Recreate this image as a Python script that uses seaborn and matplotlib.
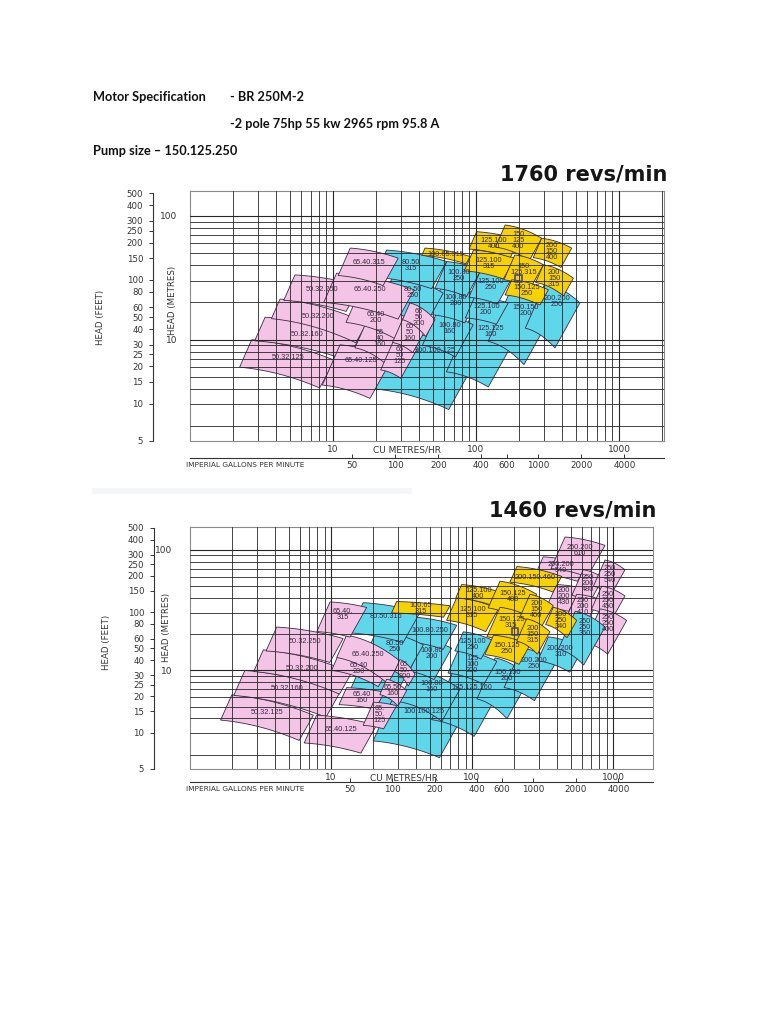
# Pump selection chart sheet: motor spec header plus two tile charts (1760 / 1460 rpm)
import numpy as np
import pandas as pd
import matplotlib
matplotlib.use('Agg')
import matplotlib.pyplot as plt
from matplotlib.ticker import NullLocator, NullFormatter
import seaborn as sns

sns.set_style('white')
plt.rcParams['font.family'] = ['DejaVu Sans']

M3H_PER_IGPM = 0.2728
FT_PER_M = 3.28084
colours = {'p': '#f4c4e6', 'c': '#5fd7ea', 'y': '#f6d300'}

# ---- 1760 revs/min tiles (flow m3/h, head m) ----
c1_labels = ["100.100.125", "125.125\n160", "150.150\n200", "200.200\n250",
             "100.80\n160", "100.80\n200", "100.80\n250", "125.100\n200", "125.100\n250",
             "80.50\n250", "80.50\n315",
             "100.65.315", "125.100\n315", "125.100\n400", "150\n125\n400", "150\n125.315",
             "150.125\n250", "200\n150\n400", "200\n150\n315",
             "50.32.125", "50.32.160", "50.32.200", "50.32.250", "65.40.125", "65\n40\n160",
             "65.40\n200", "65.40.250", "65.40.315", "65\n50\n125", "65\n50\n160", "65\n50\n200"]
c1_kind = list('c' * 11 + 'y' * 8 + 'p' * 12)
c1_q_lo = [29.4, 93, 173, 304, 53, 57.5, 62.4, 98, 107, 26.5, 23.7,
           44, 96, 101, 160, 187, 178, 288, 296,
           2.7, 3.35, 4.26, 5.42, 11.2, 17.2, 14.3, 10.6, 13.2, 26.4, 31, 34.5]
c1_q_hi = [107, 203, 338, 533, 95.7, 107, 109, 168, 178, 59, 62.4,
           91, 187, 203, 288, 296, 321, 467, 480,
           10.3, 15.5, 17.2, 15.5, 26, 31, 33, 37, 28.6, 38.5, 45, 51.7]
c1_h_top = [11.5, 15.9, 24.5, 28.6, 16.4, 26.9, 42.8, 22.3, 35.6, 33.4, 53,
            55, 53, 74.6, 84.5, 48.4, 30.5, 66, 40.3,
            10, 15.2, 21.3, 33.4, 9.1, 14.1, 20.4, 34.5, 55, 9.7, 15, 19.8]
c1_h_end = [7.85, 12, 15.9, 19.8, 13.2, 23, 36.7, 19.8, 31.4, 23.8, 42.8,
            47, 45.6, 64, 66, 40.3, 25.3, 55, 31.4,
            6.8, 10.6, 13.6, 27.2, 7.1, 10, 15, 25.3, 45.6, 8.3, 12.4, 14.5]
c1_h_base = [4.0, 5.5, 9.7, 12.4, 9, 16, 26, 15, 22, 11, 32,
             48, 36, 54, 56, 30.5, 23, 46, 29,
             6.0, 9.8, 14.8, 20.8, 4.3, 8.6, 13.8, 20, 33, 5.7, 9.5, 14.5]

# ---- 1460 revs/min tiles ----
c2_labels = ["200.200\n540", "250.200\n610", "200\n200\n430", "250\n200\n480", "250\n200\n410",
             "250\n250\n540", "250\n250\n450", "250\n250\n400",
             "100.100.125", "125.125.160", "150.150\n200", "200.200\n250", "200.200\n310",
             "250\n250\n360", "100.80\n160", "100.80\n200", "100.80.250", "125\n100\n200",
             "125.100\n250", "80.50\n250", "80.50.315",
             "100.65\n315", "125.100\n315", "125.100\n400", "150.125\n400", "150.125\n315",
             "150.125\n250", "200.150.460", "200\n150\n400", "200\n150\n315", "200\n250\n340",
             "50.32.125", "50.32.160", "50.32.200", "50.32.250", "65.40.125", "65.40\n160",
             "65.40\n200", "65.40.250", "65.40.\n315", "65.\n50.\n125", "65.50\n160", "65.\n50.\n200"]
c2_kind = list('p' * 8 + 'c' * 13 + 'y' * 10 + 'p' * 12)
c2_q_lo = [320, 457, 398, 615, 553, 878, 832, 809,
           27.7, 73.7, 146, 225, 348, 540, 38.4, 45.2, 38.4, 80, 86.8, 21.1, 16.9,
           29.2, 77.9, 84.5, 158, 158, 142, 208, 258, 244, 377,
           1.98, 2.45, 3.31, 4.12, 7.9, 12.9, 11.3, 12.9, 9.84, 20, 24.8, 30.8]
c2_q_hi = [651, 878, 600, 853, 800, 1216, 1216, 1250,
           89.2, 162, 258, 398, 615, 878, 82.2, 71.8, 77.9, 150, 138, 45.2, 42.8,
           69.8, 154, 162, 288, 272, 258, 433, 377, 357, 553,
           7.5, 11.6, 14, 12.2, 21, 24, 25, 31, 17.9, 29.2, 34.4, 39.4]
c2_h_top = [87.7, 128, 51.6, 68.4, 42.8, 82.4, 50, 32.4,
            6.2, 9.9, 12.7, 15.3, 19, 31, 10.2, 17.9, 27.7, 14.8, 20.9, 21.5, 36.5,
            37.3, 40.2, 51.6, 55, 33.4, 19.6, 72.8, 42.8, 26.8, 33.4,
            6.27, 10, 14.8, 22.9, 4.25, 7.2, 13.5, 19.6, 37, 5.45, 8.45, 12.3]
c2_h_end = [75.2, 109, 48.4, 58.5, 39, 68.4, 41.5, 26,
            4.5, 7.2, 8.7, 11.9, 15.3, 22.9, 7, 15.3, 23.7, 11.9, 17.9, 16.3, 30.3,
            34.4, 32.4, 44.2, 42.8, 26.8, 16.3, 60.3, 34.4, 20.9, 26,
            4.25, 6.6, 9.6, 18.4, 3.5, 6.6, 9.9, 11.9, 33.3, 5.1, 6.8, 9.3]
c2_h_base = [64, 70, 33, 42, 28, 50, 32, 17,
             2.6, 3.9, 5.8, 7.2, 12, 15, 5.5, 9.8, 17.5, 9.5, 14.5, 6.5, 20.5,
             30, 26, 40, 33, 19, 13.5, 54, 27.5, 17.5, 24,
             3.87, 6.2, 9.8, 14.5, 2.5, 5.2, 10, 12.8, 21, 3.5, 6.3, 9.8]

# selected duty point (pump 150.125.250)
duty_q = [198, 202]
duty_h = [31.4, 20.9]

ft_ticks = [5, 10, 15, 20, 25, 30, 40, 50, 60, 80, 100, 150, 200, 250, 300, 400, 500]
gpm_ticks = [50, 100, 200, 400, 600, 1000, 2000, 4000]
m3h_ticks = [10, 100, 1000]
m_ticks = [10, 100]


def tile_outline(ql, qr, htl, htr, hbl, n=24):
    # curved tile: head curve on top, affinity-shifted copy underneath
    xl, xr = np.log10(ql), np.log10(qr)
    yl, yr = np.log10(htl), np.log10(htr)
    thick = yl - np.log10(hbl)
    t = np.linspace(0, 1, n)
    x_top = xl + (xr - xl) * t
    y_top = yl - (yl - yr) * (0.35 * t + 0.65 * t ** 2)
    a = 0.38 + 0.1 * t
    x_bot = x_top - a * thick
    y_bot = y_top - thick
    xs = np.concatenate([x_top, x_bot[::-1]])
    ys = np.concatenate([y_top, y_bot[::-1]])
    d = min(thick / 2, 0.09)
    lx = (xl + xr) / 2 - 0.42 * d
    ly = yl - (yl - yr) * (0.35 * 0.5 + 0.65 * 0.25) - d
    return 10 ** xs, 10 ** ys, 10 ** lx, 10 ** ly


def draw_chart(ax, df, xlim, ylim, ypad, xpad, gpm_loc, mq, mh):
    ax.set_xscale('log')
    ax.set_yscale('log')
    for _, r in df.iterrows():
        xs, ys, lx, ly = tile_outline(r.q_lo, r.q_hi, r.h_top, r.h_end, r.h_base)
        ax.fill(xs, ys, facecolor=colours[r.kind], edgecolor='#3d2a45', lw=0.6, zorder=1)
        ax.text(lx, ly, r.label, fontsize=5.3, ha='center', va='center', color='#3a2a44',
                linespacing=0.8, zorder=5, family='Liberation Sans')
    sns.scatterplot(x=mq, y=mh, ax=ax, marker='s', s=24, facecolor='none',
                    edgecolor='#3b3a9a', linewidth=1.1, zorder=6)
    ax.set_xlim(*xlim)
    ax.set_ylim(*ylim)
    ax.set_axisbelow(False)
    ax.grid(True, which='major', color='#262626', lw=0.8, zorder=3)
    ax.grid(True, which='minor', color='#262626', lw=0.6, zorder=3)
    ax.set_xticks(m3h_ticks, labels=[str(v) for v in m3h_ticks])
    ax.set_yticks(m_ticks, labels=[str(v) for v in m_ticks])
    ax.xaxis.set_minor_formatter(NullFormatter())
    ax.yaxis.set_minor_formatter(NullFormatter())
    ax.tick_params(which='both', length=0, labelsize=6.5, colors='#333333')
    ax.tick_params(axis='y', pad=ypad)
    ax.tick_params(axis='x', pad=xpad)
    for s in ax.spines.values():
        s.set_color('#8a8a8a')
        s.set_linewidth(0.8)
    ax.text(33, -0.036, 'CU METRES/HR', transform=ax.get_xaxis_transform(),
            ha='center', va='center', fontsize=6.5, color='#333333')

    ft = ax.secondary_yaxis(-0.078, functions=(lambda h: h * FT_PER_M, lambda f: f / FT_PER_M))
    ft.set_yticks(ft_ticks, labels=[str(v) for v in ft_ticks])
    ft.yaxis.set_minor_locator(NullLocator())
    ft.tick_params(length=3, width=0.7, labelsize=6.2, colors='#333333', pad=4)
    ft.spines['left'].set_bounds(5, 500)
    ft.spines['left'].set_color('#333333')

    gp = ax.secondary_xaxis(gpm_loc, functions=(lambda q: q / M3H_PER_IGPM, lambda g: g * M3H_PER_IGPM))
    gp.set_xticks(gpm_ticks, labels=[str(v) for v in gpm_ticks])
    gp.xaxis.set_minor_locator(NullLocator())
    gp.tick_params(direction='in', length=3, width=0.7, labelsize=6.3, colors='#333333', pad=2)
    gp.spines['bottom'].set_color('#333333')


df1 = pd.DataFrame({'label': c1_labels, 'kind': c1_kind, 'q_lo': c1_q_lo, 'q_hi': c1_q_hi,
                    'h_top': c1_h_top, 'h_end': c1_h_end, 'h_base': c1_h_base})
df2 = pd.DataFrame({'label': c2_labels, 'kind': c2_kind, 'q_lo': c2_q_lo, 'q_hi': c2_q_hi,
                    'h_top': c2_h_top, 'h_end': c2_h_end, 'h_base': c2_h_base})

fig = plt.figure(figsize=(7.68, 10.24), dpi=100)
W, H = 768, 1024

ax1 = fig.add_axes([190 / W, 1 - 441 / H, 474 / W, 250 / H])
draw_chart(ax1, df1, (1, 2065), (1.52, 159), 13 * 0.72, 3.2, -0.068, duty_q[:1], duty_h[:1])
ax2 = fig.add_axes([190 / W, 1 - 769 / H, 463 / W, 242 / H])
draw_chart(ax2, df2, (1, 1922), (1.52, 155), 18 * 0.72, 2.6, -0.054, duty_q[1:], duty_h[1:])

# faint scanner strip between the two charts
fig.patches.append(plt.Rectangle((92 / W, 1 - 494 / H), 320 / W, 6 / H, transform=fig.transFigure,
                                 facecolor='#f4f6f9', edgecolor='none', zorder=0))

# header text
hdr = dict(fontsize=9.2, fontweight='bold', family='Lato', color='#111111', va='center')
fig.text(93 / W, 1 - 97 / H, 'Motor Specification', **hdr)
fig.text(230 / W, 1 - 97 / H, '- BR 250M-2', **hdr)
fig.text(230 / W, 1 - 124 / H, '-2 pole 75hp 55 kw 2965 rpm 95.8 A', **hdr)
fig.text(93 / W, 1 - 151 / H, 'Pump size \u2013 150.125.250', **hdr)

# chart titles and side labels
for top_y, title, right, feet_x, feet_y, met_x, met_y, gal_y in [
        (175, '1760 revs/min', 667, 101, 317, 173, 300, 465),
        (510, '1460 revs/min', 656, 107, 642, 167, 627, 789)]:
    fig.text(right / W, 1 - top_y / H, title, ha='right', va='center',
             fontsize=15, fontweight='bold', color='#151515')
    fig.text(feet_x / W, 1 - feet_y / H, 'HEAD (FEET)', rotation=90, ha='center',
             va='center', fontsize=6.2, color='#333333')
    fig.text(met_x / W, 1 - met_y / H, 'HEAD (METRES)', rotation=90, ha='center',
             va='center', fontsize=6.2, color='#333333')
    fig.text(186 / W, 1 - gal_y / H, 'IMPERIAL GALLONS PER MINUTE', ha='left',
             va='center', fontsize=5.3, color='#333333')

fig.savefig('out.png', dpi=100, facecolor='white')
